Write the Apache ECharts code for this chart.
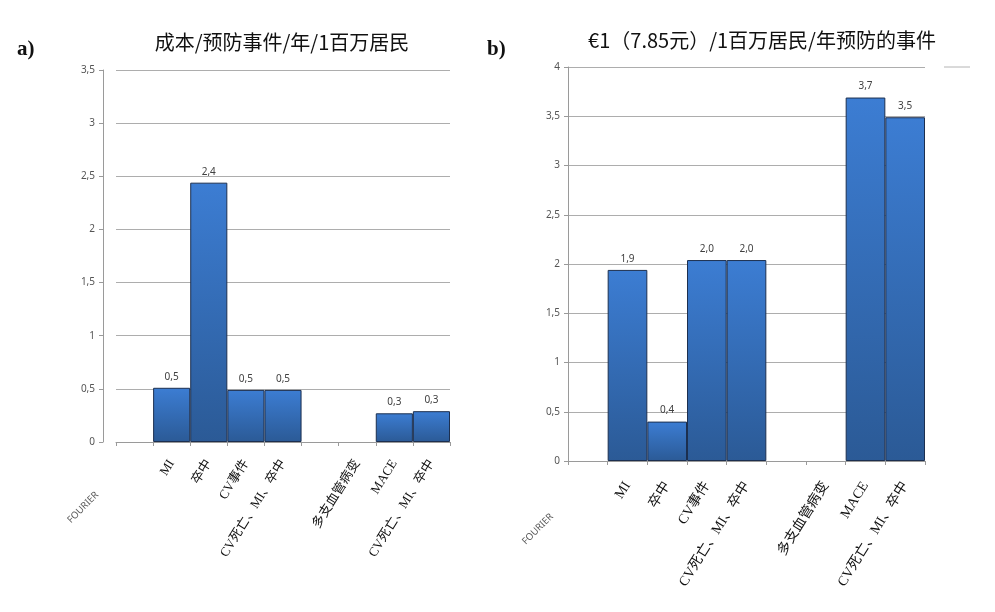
<!DOCTYPE html>
<html>
<head>
<meta charset="utf-8">
<script src="https://cdn.jsdelivr.net/npm/echarts@6/dist/echarts.min.js"></script>
<style>
html,body{margin:0;padding:0;background:#fff;}
#c{width:995px;height:612px;}
</style>
</head>
<body>
<div id="c"></div>
<script>
// ---- data ----
var categories = ['FOURIER', 'MI', '卒中', 'CV事件', 'CV死亡、MI、卒中', '', '多支血管病变', 'MACE', 'CV死亡、MI、卒中'];
var costValues = [null, 0.51, 2.44, 0.49, 0.49, null, null, 0.27, 0.29];
var eventValues = [null, 1.94, 0.40, 2.04, 2.04, null, null, 3.69, 3.49];
var titleA = '成本/预防事件/年/1百万居民';
var titleB = '€1（7.85元）/1百万居民/年预防的事件';
var yMaxA = 3.5, yMaxB = 4, yStep = 0.5;

var chart = echarts.init(document.getElementById('c'), null, {renderer: 'canvas'});

function commaFmt(v) { return String(v).replace('.', ','); }
function oneDec(p) { return p.value == null ? '' : p.value.toFixed(1).replace('.', ','); }

var catFont = "'Liberation Serif', 'Noto Sans CJK SC', serif";
var gradient = new echarts.graphic.LinearGradient(0, 0, 0, 1, [
  {offset: 0, color: '#3c7dd3'},
  {offset: 1, color: '#2b5a96'}
]);

function mainX(gi, fs, margin) {
  return {
    type: 'category', gridIndex: gi, data: categories,
    axisLine: {lineStyle: {color: '#9a9a9a', width: 1}},
    axisTick: {show: true, alignWithLabel: false, interval: 0, length: 4, lineStyle: {color: '#9a9a9a'}},
    axisLabel: {
      interval: 0, rotate: 58, margin: margin, color: '#111', fontSize: fs, fontFamily: catFont,
      formatter: function (v) { return v === 'FOURIER' ? '' : v; }
    }
  };
}
function fourierX(gi, pad, margin) {
  return {
    type: 'category', gridIndex: gi, data: categories, position: 'bottom',
    axisLine: {show: false}, axisTick: {show: false}, splitLine: {show: false},
    axisLabel: {
      interval: 0, rotate: 45, margin: margin,
      formatter: function (v) { return v === 'FOURIER' ? '{f|' + v + '}' : ''; },
      rich: {f: {fontSize: 9.5, color: '#595959', fontFamily: "'Noto Sans', sans-serif", padding: [0, pad, 0, 0]}}
    }
  };
}
function yAx(gi, max, offset) {
  return {
    type: 'value', gridIndex: gi, min: 0, max: max, interval: yStep, offset: offset,
    axisLine: {show: true, lineStyle: {color: '#9a9a9a'}},
    axisTick: {show: true, length: 4, lineStyle: {color: '#9a9a9a'}},
    axisLabel: {color: '#555', fontSize: 10, fontFamily: "'Noto Sans', sans-serif", margin: 8, formatter: commaFmt},
    splitLine: {show: true, lineStyle: {color: '#adadad', width: 1}}
  };
}
function barSeries(xi, yi, data) {
  return {
    type: 'bar', xAxisIndex: xi, yAxisIndex: yi, data: data,
    barWidth: '100%', barCategoryGap: '0%',
    itemStyle: {color: gradient, borderColor: '#1c2f4f', borderWidth: 1},
    label: {show: true, position: 'top', distance: 6, color: '#404040', fontSize: 10,
            fontFamily: "'Noto Sans', sans-serif", formatter: oneDec},
    silent: true
  };
}

chart.setOption({
  animation: false,
  backgroundColor: '#fff',
  title: [
    {text: titleA, left: 277, top: 27, textAlign: 'center',
     textStyle: {fontSize: 20, fontWeight: 'normal', color: '#111', fontFamily: "'Noto Sans CJK SC', sans-serif"}},
    {text: titleB, left: 757, top: 25, textAlign: 'center',
     textStyle: {fontSize: 20, fontWeight: 'normal', color: '#111', fontFamily: "'Noto Sans CJK SC', sans-serif"}},
    {text: 'a)', left: 12, top: 34,
     textStyle: {fontSize: 21, fontWeight: 'bold', color: '#111', fontFamily: "'Liberation Serif', serif"}},
    {text: 'b)', left: 482, top: 34,
     textStyle: {fontSize: 21, fontWeight: 'bold', color: '#111', fontFamily: "'Liberation Serif', serif"}}
  ],
  grid: [
    {left: 116, top: 70, right: 545, bottom: 170},
    {left: 568, top: 67, right: 70, bottom: 151}
  ],
  xAxis: [
    mainX(0, 13, 19),
    mainX(1, 14, 22),
    fourierX(0, 53, 14),
    fourierX(1, 51, 18)
  ],
  yAxis: [
    yAx(0, yMaxA, 13),
    yAx(1, yMaxB, 0)
  ],
  series: [
    barSeries(0, 0, costValues),
    barSeries(1, 1, eventValues)
  ],
  graphic: [
    {type: 'line', shape: {x1: 944, y1: 67, x2: 970, y2: 67}, style: {stroke: '#b4b4b4', lineWidth: 1}, silent: true}
  ]
});
</script>
</body>
</html>
